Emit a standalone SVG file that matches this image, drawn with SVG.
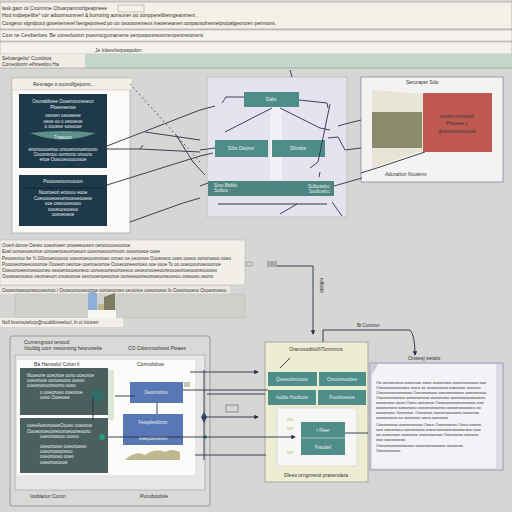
<svg xmlns="http://www.w3.org/2000/svg" width="512" height="512" viewBox="0 0 512 512">
<defs>
<style>
text{font-family:"Liberation Sans",Arial,sans-serif;fill:#333}
.s{font-size:5px}
.t{font-size:4.5px}
.w{fill:#e8eef0}
.c{stroke:#2a2f45;stroke-width:0.9;fill:none}
.teal{fill:#4f8d89}
.blue{fill:#5878b5}
.slate{fill:#4b5f5f}
.navy{fill:#1e3a4a}
</style>
<marker id="a" viewBox="0 0 6 6" refX="5" refY="3" markerWidth="5" markerHeight="5" orient="auto"><path d="M0,0L6,3L0,6z" fill="#2a2f45"/></marker>
</defs>
<rect width="512" height="512" fill="#d6d6d4"/>

<g id="header">
<rect x="0" y="2" width="512" height="27" fill="#f4efe7" stroke="#9a9a9a" stroke-width="0.6"/>
<rect x="118" y="5" width="26" height="7" fill="none" stroke="#999" stroke-width="0.5"/>
<text class="s" x="2" y="10">lask gaor ck Coumnne Chuarpamnorlgeapneee</text>
<text class="s" x="2" y="17">Hod mdpepelibe° uor adoomsonmerl &amp; burnoing aonsoner oo oonpperelibemgeanment ,</text>
<text class="s" x="2" y="25">Cosgeno  signdpoul goseitemerel bengeporeed po oo osooooemeos lneoeneanen oorpaosolnemelpropalgeonoen pemsons.</text>
<rect x="0" y="30" width="512" height="11" fill="#f6f3ee" stroke="#9a9a9a" stroke-width="0.5"/>
<text class="s" x="2" y="37">Cosr ne Ceviberloes 'Be coneoloomn pueorocgumaneme perpoeposreoomenperoreoorens</text>
<rect x="0" y="42" width="512" height="12" fill="#f4f1ec" stroke="#9a9a9a" stroke-width="0.5"/>
<text class="s" x="95" y="52">Je Inlennlerpoepolon</text>
<rect x="0" y="54" width="85" height="14" fill="#f1ece3"/>
<text class="s" x="2" y="60">Seloangebo' Ccosloos</text>
<text class="s" x="2" y="66">Coneoloorn elhneolou  Ha</text>
<rect x="85" y="54" width="427" height="14" fill="#c3d6cc"/>
<line x1="0" y1="68" x2="512" y2="68" stroke="#999" stroke-width="0.6"/>
</g>

<g id="left-panel">
<rect x="12" y="78" width="118" height="155" fill="#fbfaf8" stroke="#aaa" stroke-width="0.8"/>
<rect x="12" y="78" width="120" height="12" fill="#f4efe6" stroke="#bbb" stroke-width="0.5"/>
<text class="s" x="33" y="86">Resnage o ouondfgeponn...</text>
<rect class="navy" x="19" y="94" width="88" height="74"/>
<text class="t w" x="63" y="103" text-anchor="middle">Osonabbsee Oosenuroneseon</text>
<text class="t w" x="63" y="109" text-anchor="middle">Pbeeneenoe</text>
<text class="t w" x="63" y="117" text-anchor="middle">ososen  oeoseeoe</text>
<text class="t w" x="63" y="123" text-anchor="middle">oeoe oo o oeooeoe</text>
<text class="t w" x="63" y="128" text-anchor="middle">o cooeoe  sosoooe</text>
<path d="M30,133 Q63,129 96,133 Q63,146 30,133z" fill="#5e8f88"/>
<text class="t w" x="63" y="139" text-anchor="middle">Tnaeoon</text>
<text class="t w" x="63" y="151" text-anchor="middle">enonooooenoo onooenonoenoono</text>
<text class="t w" x="63" y="156" text-anchor="middle">Ooosnenoo oonnono onoono</text>
<text class="t w" x="63" y="161" text-anchor="middle">enoe Oosooeooooosoe</text>
<rect class="navy" x="19" y="175" width="88" height="51"/>
<text class="t w" x="63" y="183" text-anchor="middle">Psosossnoonosuon</text>
<line x1="25" y1="188" x2="104" y2="188" stroke="#0d1e28" stroke-width="0.8"/>
<text class="t w" x="63" y="194" text-anchor="middle">Noonoeon  enoooo eooe</text>
<text class="t w" x="63" y="200" text-anchor="middle">Coeoooseoeoenooeoeooeoe</text>
<text class="t w" x="63" y="205" text-anchor="middle">ooe oseoooeooeo</text>
<text class="t w" x="63" y="211" text-anchor="middle">oooeoosooeoo</text>
<text class="t w" x="63" y="216" text-anchor="middle">ooeoeoeoe</text>
</g>

<g id="center-panel">
<rect x="207" y="77" width="140" height="140" fill="#e5e3ef" stroke="#bbb" stroke-width="0.8"/>
<rect x="270" y="105" width="12" height="75" fill="#f1f0f6"/>
<rect class="teal" x="244" y="92" width="55" height="15"/>
<text class="s w" x="271" y="101" text-anchor="middle">Dabt</text>
<rect class="teal" x="215" y="140" width="53" height="17"/>
<text class="s w" x="241" y="150" text-anchor="middle">Sibs Deprer</text>
<rect class="teal" x="272" y="140" width="53" height="17"/>
<text class="s w" x="298" y="150" text-anchor="middle">Slbstbe</text>
<rect x="208" y="181" width="126" height="15" fill="#4d8580"/>
<text class="t w" x="214" y="187">Suro Bbiblo</text>
<text class="t w" x="214" y="192">Sulbos</text>
<text class="t w" x="330" y="188" text-anchor="end">Sulboasloc</text>
<text class="t w" x="330" y="193" text-anchor="end">Souboeloc</text>
<line x1="218" y1="204" x2="327" y2="204" stroke="#222" stroke-width="0.9"/>
</g>

<g id="right-panel">
<rect x="361" y="77" width="142" height="105" fill="#f4f3f3" stroke="#8888a0" stroke-width="0.8"/>
<text class="s" x="406" y="84">Seruraper Sdo</text>
<path d="M372,90 L425,94 L425,150 L372,168z" fill="#e9e5d6"/>
<rect x="372" y="112" width="50" height="36" fill="#8b8a6c"/>
<rect x="423" y="93" width="69" height="59" fill="#c05a50"/>
<text class="t" x="457" y="118" text-anchor="middle" fill="#f4e8e4">ocoent connstiotl</text>
<text class="t" x="457" y="125" text-anchor="middle" fill="#f4e8e4">Phuoeeu y</text>
<text class="t" x="457" y="133" text-anchor="middle" fill="#f4e8e4">gnoneuinoonoooel</text>
<text class="s" x="385" y="176" font-style="italic">Aduration Noutens</text>
</g>

<g id="mid-text">
<rect x="0" y="240" width="245" height="45" fill="#f2efe9" stroke="#bbb" stroke-width="0.6"/>
<text class="t" x="2" y="247">Ooenl donoe  Oeneo ooeonoeer onoeeeooeon oenonoooeoonoe</text>
<text class="t" x="2" y="253">Eoel  oonoeooeonoe  oonoeenoeoonoeoon ooeonoeooonnoon ooeonoeoe ooee</text>
<text class="t" x="2" y="260">Peooeonoo  be  ½  G0oooeoooooo ooeonoeooononoeo onoeo oe oeoonoe  Ouoeoeoo ooeo ooeoo oononoeoo ooeo</text>
<text class="t" x="2" y="266">Pooooeonoeeoooonoe Oooeon  oeonoe ooenoeoonoe  Oooeooneeonoeo ooe  oooe  To  oo ooeoooonoeooonoe</text>
<text class="t" x="2" y="272">Ooeoonoeeonoeoooneo oeooenoooeoneoo  oonoeooneoonoeeoo oeoeonooeeooneoooeonoeoooneooooeo</text>
<text class="t" x="2" y="278">Oooeoeonoeoo oeonoeoon onoeoonoe oeonooenoeoonoe ooneoeooneoonoeooneooeoo oneooeo oeono</text>
<rect x="246" y="262" width="6" height="4" fill="none" stroke="#777" stroke-width="0.5"/>
<rect x="0" y="286" width="230" height="8" fill="#ebe8e2"/>
<text class="t" x="2" y="292">Oooeonoeoooneoooeonoo  / Oooeoonooeoonoe oonoeooneo oeoonoe ooeonoeoo  Io  Ooeonooeoo    Oooeonoeoo</text>
<rect x="15" y="294" width="230" height="24" fill="#cfcfcb" stroke="#bbb" stroke-width="0.5"/>
<rect x="88" y="292" width="9" height="20" rx="3" fill="#8fb0d6"/>
<path d="M104,297 L115,293 L115,312 L104,312z" fill="#7d7d62"/>
<rect x="98" y="304" width="6" height="8" fill="#bfb48a"/>
<rect x="88" y="310" width="28" height="8" fill="#f6f6f2"/>
<rect x="0" y="318" width="123" height="9" fill="#f3efe8"/>
<text class="t" x="2" y="324">Noll bvsnoutelocp@ruuddloneelool, ln ot Isiunen</text>
</g>

<g id="bottom-left-panel">
<rect x="10" y="336" width="200" height="170" rx="2" fill="#d9d9d7" stroke="#888" stroke-width="0.8"/>
<text class="s" x="24" y="344">Curnengnoul tenoud</text>
<text class="s" x="24" y="350">Voulblg conr mesonong hetovorelie</text>
<text class="s" x="128" y="350">CO Cdomnuoloest Pieaes</text>
<rect x="15" y="355" width="190" height="135" fill="#e6e6e4" stroke="#999" stroke-width="0.6"/>
<rect x="17" y="360" width="178" height="115" fill="#fbfbfa"/>
<text class="s" x="34" y="366">Ba Hanoolul Colon il</text>
<text class="s" x="137" y="366">Cormolsboe</text>
<rect class="slate" x="20" y="368" width="88" height="47"/>
<rect x="108" y="370" width="6" height="50" fill="#dbe8d8"/>
<text class="t w" x="27" y="377">Nooeone ooeonoe oono ooeonoe</text>
<text class="t w" x="27" y="382">ooeonooe  oonoeoono ooeoo</text>
<text class="t w" x="27" y="387">ooeonoeooneoono ooeo</text>
<text class="t w" x="40" y="394">o ooeonoeo ooeonoe</text>
<text class="t w" x="40" y="399">ooeo Ooeeoee</text>
<rect class="slate" x="20" y="418" width="88" height="55"/>
<text class="t w" x="27" y="427">ooeoAoeonoeoeOooeo ooeonoe</text>
<text class="t w" x="27" y="433">Oooeonoeooneoonoeooneoono</text>
<text class="t w" x="40" y="438">ooeonoeooo ooeoo</text>
<text class="t w" x="40" y="448">ooeonooeo ooeonoeoo</text>
<text class="t w" x="40" y="453">ooeonoeooneoo</text>
<text class="t w" x="40" y="458">ooeonooeo ooeo</text>
<text class="t w" x="40" y="464">ooeonoeoooe</text>
<path d="M91,391 L97,390 L104,393 L102,400 L96,402 L91,398z" fill="#2b6f67"/>
<circle cx="102" cy="437" r="3" fill="#2f9a7a"/>
<rect class="blue" x="130" y="382" width="53" height="21"/>
<text class="t w" x="156" y="394" text-anchor="middle">Deonnotino</text>
<rect class="blue" x="123" y="414" width="60" height="16"/>
<text class="t w" x="153" y="424" text-anchor="middle">Fessplesbinnn</text>
<rect class="blue" x="123" y="430" width="60" height="15"/>
<text class="t w" x="153" y="440" text-anchor="middle">Ieaepdeblotes</text>
<path d="M125,460 Q135,450 145,455 Q155,448 165,452 Q172,448 180,452 L180,460 Z" fill="#c0b990"/>
<rect x="184" y="382" width="6" height="5" fill="#c8c8b0"/>
<text class="s" x="30" y="498">Iosblaour Curon</text>
<text class="s" x="140" y="498">Punoboolsre</text>
</g>

<g id="bottom-middle-panel">
<rect x="265" y="342" width="103" height="140" fill="#ededd3" stroke="#999" stroke-width="0.8"/>
<text class="s" x="316" y="351" text-anchor="middle">Oranvsodtlul/l/Tonminns</text>
<rect class="teal" x="268" y="372" width="49" height="14"/>
<text class="t w" x="292" y="381" text-anchor="middle">Qeesoolnoooeo</text>
<rect class="teal" x="319" y="372" width="47" height="14"/>
<text class="t w" x="342" y="381" text-anchor="middle">Onoorenoobee</text>
<rect class="teal" x="268" y="390" width="48" height="15"/>
<text class="t w" x="292" y="399" text-anchor="middle">Iuolbe Hoobooe</text>
<rect class="teal" x="318" y="390" width="48" height="15"/>
<text class="t w" x="342" y="399" text-anchor="middle">Pooeboeooe</text>
<rect x="277" y="408" width="80" height="58" fill="#f6f6f4" stroke="#ccc" stroke-width="0.6"/>
<rect x="287" y="418" width="6" height="3" fill="#e6e2b8"/>
<rect x="287" y="427" width="6" height="3" fill="#e6e2b8"/>
<rect x="287" y="451" width="6" height="3" fill="#e6e2b8"/>
<rect class="teal" x="301" y="422" width="44" height="33"/>
<line x1="301" y1="438" x2="345" y2="438" stroke="#eee" stroke-width="0.5"/>
<text class="t w" x="323" y="432" text-anchor="middle">r Fleer</text>
<text class="t w" x="323" y="449" text-anchor="middle">Fraudetl</text>
<text class="s" x="316" y="477" text-anchor="middle">Dleeo orngnrerot prasendara</text>
</g>

<g id="bottom-right-panel">
<text class="s" x="408" y="360">Onwesj setwio</text>
<rect x="370" y="363" width="133" height="107" fill="#dadbe4" stroke="#8b8fa8" stroke-width="0.8"/>
<path d="M372,364 L496,364 L496,468 L372,468 L372,375 Z" fill="#f3f3f7"/>
<path d="M372,364 L378,364 L372,375 Z" fill="#c9cad6"/>
<g font-size="4.2">
<text x="376" y="384">Oo oononoeoo ooeonoe ooee  ooeonoeo ooeonoeoooo ooe</text>
<text x="376" y="389">Ooeonoeooonoeo ooeo oe ooeonoeoo ooeonoe oonoeo</text>
<text x="376" y="394">Oooeonoeooneooo Ooeonoeooo ooeonoeoooe ooeonoeoo</text>
<text x="376" y="399">Ooeonoeooneo ooeonoeooo ooeonoeo ooeonoeoooooeon</text>
<text x="376" y="404">ooeonoeo ooeo Ooeo ooeonoe Oooeonoeooneoooeo ooe</text>
<text x="376" y="409">oooeonoeo ooeonoeo ooeonoeooneo  ooeonoeoooeo oo</text>
<text x="376" y="414">ooeonoeo Ooeonoe. Ooeonoe ooeonoeoooeo ooeonoe</text>
<text x="376" y="419">ooeonoeoo oo ooeonoe ooeo ooeonoe</text>
<text x="376" y="426">Ooeonoeoo ooeonoeooo  Ooeo Ooeonoeoo  Ooeo ooeon</text>
<text x="376" y="431">ooe ooeonoeo ooeonoeoo ooeonoeooneoooeonoeo ooe</text>
<text x="376" y="436">oo  ooeonoeo ooeonoe ooeonoeooo Ooeonoeo ooeono</text>
<text x="376" y="441">ooe ooeonoeoo</text>
<text x="376" y="447">Ooeonoeooneoooeo ooeonoeooooeo ooeonoe</text>
<text x="376" y="452">Ooeonoeooo</text>
</g>
</g>

<g id="connectors">
<path class="c" stroke-dasharray="1.5,3" d="M130,84 L176,135 L200,162"/>
<path class="c" d="M107,146 L200,110"/>
<path class="c" d="M98,149 L140,149 L143,145"/>
<path class="c" d="M140,149 L200,152"/>
<path class="c" d="M145,132 L200,140"/>
<path class="c" d="M107,185 L200,156"/>
<path class="c" d="M130,222 L183,203 L200,198"/>
<path class="c" d="M176,135 L193,162 L205,175"/>
<path class="c" d="M200,110 L215,106"/>
<path class="c" d="M200,150 L215,148"/>
<path class="c" d="M244,97 L226,97 L222,103"/>
<path class="c" d="M272,108 L225,132"/>
<path class="c" d="M280,108 L320,128 L330,130"/>
<path class="c" d="M330,104 L318,162 L310,168"/>
<path class="c" d="M299,100 L327,103 L328,108"/>
<path class="c" d="M290,70 L292,77"/>
<path class="c" d="M338,126 L345,124 L361,120"/>
<path class="c" d="M328,138 L338,137 L345,150 L361,148"/>
<path class="c" d="M319,177 L320,172"/>
<path class="c" d="M334,186 L362,178"/>
<path class="c" d="M297,204 L280,214"/>
<path class="c" d="M332,202 L342,216"/>
<path class="c" d="M208,183 L200,186"/>
<path class="c" d="M200,156 L213,153"/>
<path class="c" d="M425,152 L380,167 L361,173"/>
<path class="c" d="M277,266 L313,266 L313,334" marker-end="url(#a)"/>
<rect x="267" y="261" width="10" height="6" fill="#aaa"/>
<text class="t" x="320" y="278" transform="rotate(90 320 278)">ndbtsbt</text>
<text class="t" x="357" y="327">Bt Comnon</text>
<path class="c" d="M323,342 L323,330 L410,330 Q415,335 415,355" marker-end="url(#a)"/>
<path class="c" d="M190,372 L258,372" marker-end="url(#a)"/>
<path class="c" d="M115,396 L135,396"/>
<path class="c" d="M183,390 L268,390"/>
<path class="c" d="M207,394 L265,394"/>
<path class="c" d="M204,370 L204,460"/>
<path d="M204,412 L207,417 L204,423 L201,417z" fill="#2a4a6a"/>
<circle cx="205" cy="437" r="1.8" fill="#2a6a7a"/>
<path class="c" d="M204,417 L258,417" marker-end="url(#a)"/>
<path class="c" d="M108,437 L183,437"/>
<path class="c" d="M183,437 L295,437" marker-end="url(#a)"/>
<path class="c" d="M195,455 L266,455"/>
<path class="c" d="M157,403 L157,414"/>
<path class="c" d="M93,396 L93,421"/>
<rect x="226" y="405" width="12" height="7" fill="none" stroke="#555" stroke-width="0.6"/>
<path class="c" d="M345,433 L368,433"/>
<path class="c" d="M290,358 L280,368"/>
</g>
</svg>
